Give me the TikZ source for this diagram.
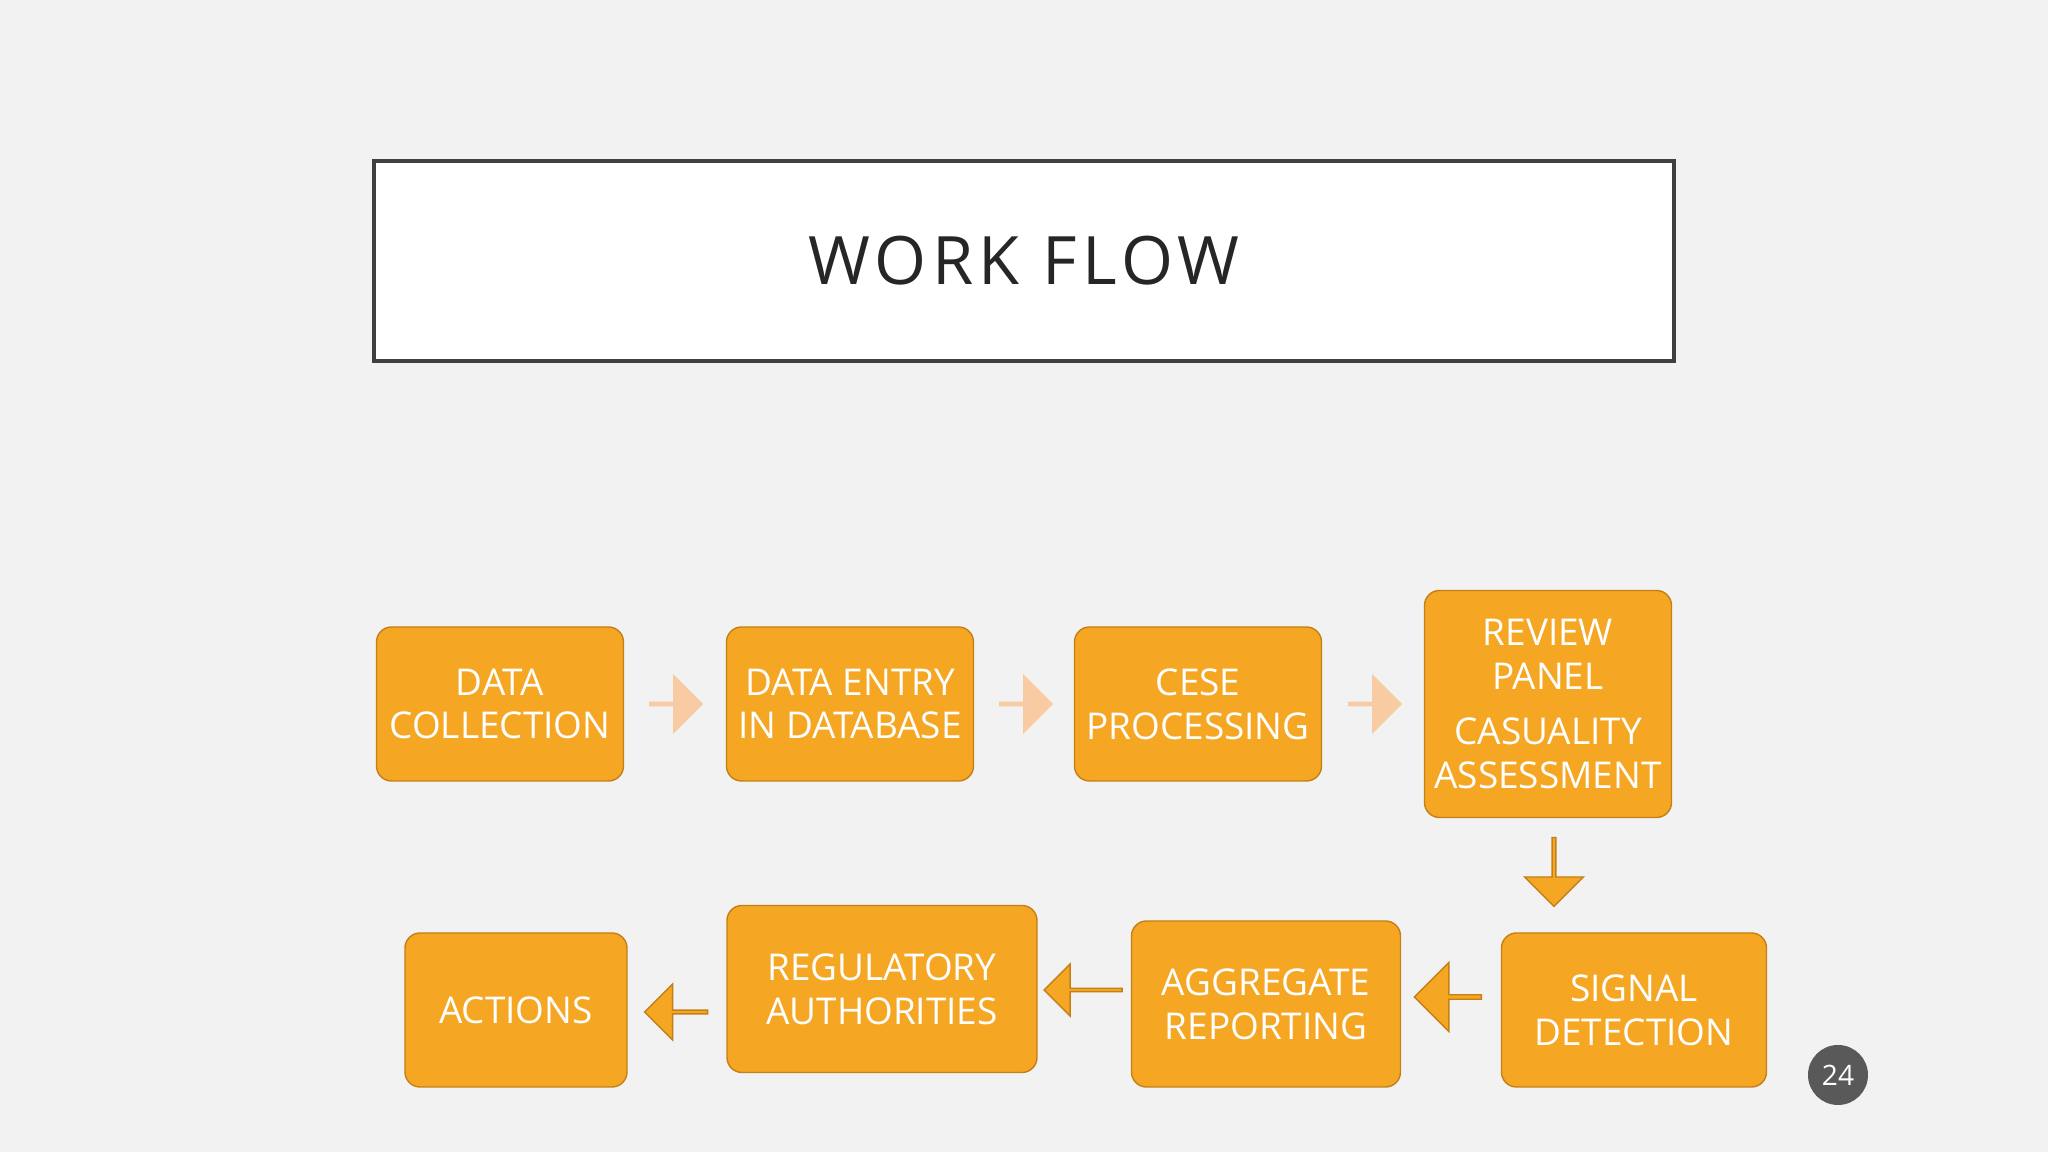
\documentclass[tikz,border=0pt]{standalone}
\usepackage{fontspec}
\setmainfont{Open Sans}
\usetikzlibrary{shapes.arrows, positioning}
\definecolor{slidebg}{RGB}{242,242,242}
\definecolor{stepfill}{RGB}{245,166,35}
\definecolor{stepdraw}{RGB}{196,128,22}
\definecolor{peach}{RGB}{249,203,163}
\definecolor{titleline}{RGB}{64,64,64}

\begin{document}
\begin{tikzpicture}[ font = \fontsize{10.5}{12.5}\selectfont
                     , stage/.style = { rectangle
                                     , rounded corners = 0.15cm
                                     , fill = stepfill
                                     , draw = stepdraw
                                     , text = white
                                     , align = center
                                     , inner sep = 0pt }
                     , flow/.style = { single arrow
                                     , fill = peach
                                     , inner sep = 0pt
                                     , single arrow head extend = 0.08cm }
                     , back/.style = { single arrow
                                     , fill = stepfill
                                     , draw = stepdraw
                                     , inner sep = 0pt
                                     , single arrow head extend = 0.1cm }
                     ]

  \fill[slidebg] (0,0) rectangle (20.48,11.52);
  \useasboundingbox (0,0) rectangle (20.48,11.52);

  % title
  \node (title) [draw = titleline, line width = 1.1pt, fill = white,
                 minimum width = 13cm, minimum height = 2cm,
                 font = \addfontfeatures{LetterSpace=8}\fontsize{19}{22}\selectfont,
                 text = black!85] at (10.24,8.91) {WORK FLOW};

  % first row
  \node (collect) [stage, minimum width = 2.47cm, minimum height = 1.54cm] at (5.00,4.48) {DATA\\COLLECTION};
  \node (entry) [stage, minimum width = 2.47cm, minimum height = 1.54cm] at (8.50,4.48) {DATA ENTRY\\IN DATABASE};
  \node (cese) [stage, minimum width = 2.47cm, minimum height = 1.54cm] at (11.98,4.48) {CESE\\PROCESSING};
  \node (review) [stage, minimum width = 2.47cm, minimum height = 2.27cm] at (15.48,4.48) {REVIEW\\PANEL\\[0.12cm]CASUALITY\\ASSESSMENT};

  \node (a1) [flow, minimum height = 0.54cm, minimum width = 0.6cm] at (6.75,4.48) {};
  \node (a2) [flow, minimum height = 0.54cm, minimum width = 0.6cm] at (10.25,4.48) {};
  \node (a3) [flow, minimum height = 0.54cm, minimum width = 0.6cm] at (13.74,4.48) {};

  % turn down
  \node (a4) [back, shape border rotate = 270, minimum height = 0.69cm, minimum width = 0.59cm] at (15.54,2.81) {};

  % second row
  \node (signal) [stage, minimum width = 2.65cm, minimum height = 1.54cm] at (16.34,1.42) {SIGNAL\\DETECTION};
  \node (aggregate) [stage, minimum width = 2.69cm, minimum height = 1.66cm] at (12.66,1.48) {AGGREGATE\\REPORTING};
  \node (regulatory) [stage, minimum width = 3.10cm, minimum height = 1.67cm] at (8.82,1.63) {REGULATORY\\AUTHORITIES};
  \node (actions) [stage, minimum width = 2.22cm, minimum height = 1.54cm] at (5.16,1.42) {ACTIONS};

  \node (a5) [back, shape border rotate = 180, minimum height = 0.67cm, minimum width = 0.69cm] at (14.49,1.55) {};
  \node (a6) [back, shape border rotate = 180, minimum height = 0.78cm, minimum width = 0.52cm] at (10.84,1.62) {};
  \node (a7) [back, shape border rotate = 180, minimum height = 0.63cm, minimum width = 0.56cm] at (6.77,1.40) {};

  % page number
  \node (page) [circle, fill = black!65, text = white, minimum size = 0.6cm,
                inner sep = 0pt, font = \fontsize{8}{9}\selectfont] at (18.38,0.77) {24};

\end{tikzpicture}
\end{document}
